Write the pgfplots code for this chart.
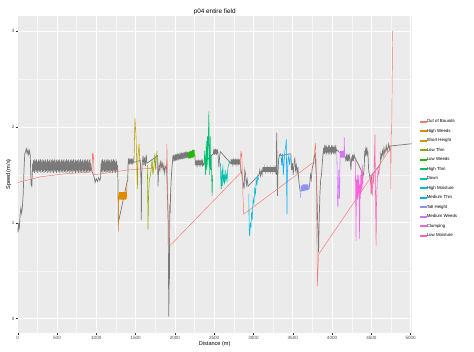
\documentclass[border=0pt]{standalone}
\usepackage{fontspec}
\setmainfont{Liberation Sans}
\usepackage{pgfplots}
\pgfplotsset{compat=1.18}
\definecolor{ggbg}{HTML}{EBEBEB}
\definecolor{ggkey}{HTML}{F2F2F2}
\definecolor{ggtick}{HTML}{333333}
\definecolor{gglab}{HTML}{4D4D4D}
\definecolor{ggna}{HTML}{7A7A7A}
\definecolor{cOOB}{HTML}{F8766D}
\definecolor{cHW}{HTML}{E18A00}
\definecolor{cSH}{HTML}{BE9C00}
\definecolor{cLT}{HTML}{8CAB00}
\definecolor{cLW}{HTML}{24B700}
\definecolor{cHT}{HTML}{00BE70}
\definecolor{cDN}{HTML}{00C1AB}
\definecolor{cHM}{HTML}{00BBDA}
\definecolor{cMT}{HTML}{00ACFC}
\definecolor{cTH}{HTML}{8B93FF}
\definecolor{cMW}{HTML}{D575FE}
\definecolor{cCL}{HTML}{F962DD}
\definecolor{cLM}{HTML}{FF65AC}
\begin{document}
\begin{tikzpicture}
\useasboundingbox (-17.7bp,-19bp) rectangle (456.3bp,333bp);
\begin{axis}[
  at={(0,0)}, anchor=south west,
  scale only axis, width=394bp, height=317bp,
  xmin=0, xmax=5013, ymin=-0.15, ymax=3.156,
  axis background/.style={fill=ggbg},
  axis line style={draw=none},
  xtick={0,500,1000,1500,2000,2500,3000,3500,4000,4500,5000},
  xticklabels={0,500,1000,1500,2000,2500,3000,3500,4000,4500,5000},
  minor xtick={250,750,1250,1750,2250,2750,3250,3750,4250,4750},
  ytick={0,1,2,3}, yticklabels={0,1,2,3},
  minor ytick={0.5,1.5,2.5},
  grid=both,
  major grid style={white, line width=0.6bp},
  minor grid style={white!60!ggbg, line width=0.3bp},
  xtick pos=bottom, ytick pos=left,
  tick align=outside, major tick length=2bp, minor tick length=0bp,
  major tick style={ggtick, line width=0.4bp},
  ticklabel style={font=\fontsize{4.6}{5}\selectfont, text=gglab},
  xticklabel style={inner sep=1bp},
  yticklabel style={inner sep=1bp},
  every axis x label/.style={at={(axis description cs:0.5,0)}, yshift=-11.3bp, anchor=center, font=\fontsize{5.6}{6}\selectfont},
  every axis y label/.style={at={(axis description cs:0,0.5)}, xshift=-9bp, rotate=90, anchor=center, font=\fontsize{5.6}{6}\selectfont},
  every axis title/.style={at={(axis description cs:0.5,1)}, yshift=3.7bp, anchor=center, font=\fontsize{6.4}{7}\selectfont},
  xlabel={Distance (m)}, ylabel={Speed (m/s)}, title={p04 entire field},
  legend style={draw=none, fill=none, at={(axis description cs:1,1)}, anchor=north west,
    xshift=8.3bp, yshift=-102.5bp, font=\fontsize{4.4}{5}\selectfont,
    row sep=3.7bp, inner sep=0bp, outer sep=0bp,
    nodes={inner sep=0.6bp, text height=3.6bp, text depth=1bp}},
  legend cell align=left,
  legend image code/.code={\fill[#1, line width=0.2bp] (0.5bp,-0.5bp) rectangle (6.5bp,0.5bp);},
  every axis plot/.append style={line width=0.55bp},
]
% NA (grey) section
\addplot[ggna, line width=0.7bp, forget plot] coordinates {
(0,0.95)(5,0.9)(10,0.97)(15,1.0)(20,0.93)(30,1.08)(40,1.15)(50,1.1)(60,1.17)(70,1.3)(80,1.55)(90,1.72)(100,1.74)(110,1.77)(120,1.72)(130,1.76)(140,1.71)(150,1.75)(160,1.7)(170,1.4)(180,1.38)
(190,1.62)(195,1.53)(200,1.65)(205,1.54)(210,1.66)(215,1.52)(220,1.64)(225,1.55)(230,1.65)(235,1.53)(240,1.66)(245,1.54)(250,1.63)(255,1.52)(260,1.65)(265,1.55)(270,1.66)(275,1.53)(280,1.64)(285,1.54)(290,1.66)(295,1.52)(300,1.65)(305,1.55)(310,1.63)(315,1.53)(320,1.66)(325,1.54)(330,1.65)(335,1.52)(340,1.64)(345,1.55)(350,1.66)(355,1.53)(360,1.65)(365,1.54)(370,1.63)(375,1.52)(380,1.66)(385,1.55)(390,1.64)(395,1.53)(400,1.65)(405,1.54)(410,1.66)(415,1.52)(420,1.63)(425,1.55)(430,1.65)(435,1.53)(440,1.66)(445,1.54)(450,1.64)(455,1.52)(460,1.65)(465,1.55)(470,1.66)(475,1.53)(480,1.63)(485,1.54)(490,1.65)(495,1.52)(500,1.66)(505,1.55)(510,1.64)(515,1.53)(520,1.65)(525,1.54)(530,1.66)(535,1.52)(540,1.63)(545,1.55)(550,1.65)(555,1.53)(560,1.66)(565,1.54)(570,1.64)(575,1.52)(580,1.65)(585,1.55)(590,1.66)(595,1.53)(600,1.63)(605,1.54)(610,1.65)(615,1.52)(620,1.66)(625,1.55)(630,1.64)(635,1.53)(640,1.65)(645,1.54)(650,1.66)(655,1.52)(660,1.63)(665,1.55)(670,1.65)(675,1.53)(680,1.66)(685,1.54)(690,1.64)(695,1.52)(700,1.65)(705,1.55)(710,1.66)(715,1.53)(720,1.63)(725,1.54)(730,1.65)(735,1.52)(740,1.66)(745,1.55)(750,1.64)(755,1.53)(760,1.65)(765,1.54)(770,1.66)(775,1.52)(780,1.63)(785,1.55)(790,1.65)(795,1.53)(800,1.66)(805,1.54)(810,1.64)(815,1.52)(820,1.65)(825,1.55)(830,1.66)(835,1.53)(840,1.63)(845,1.54)(850,1.65)(855,1.52)(860,1.66)(865,1.55)(870,1.64)(875,1.53)(880,1.65)(885,1.54)(890,1.66)(895,1.52)(900,1.63)(905,1.55)(910,1.65)(915,1.53)(920,1.66)(925,1.54)(930,1.62)(940,1.55)
(975,1.47)(985,1.42)(1000,1.46)(1015,1.43)(1030,1.47)(1045,1.44)(1055,1.47)
(1060,1.62)(1065,1.53)(1070,1.65)(1075,1.54)(1080,1.66)(1085,1.52)(1090,1.64)(1095,1.55)(1100,1.65)(1105,1.53)(1110,1.66)(1115,1.54)(1120,1.63)(1125,1.52)(1130,1.65)(1135,1.55)(1140,1.66)(1145,1.53)(1150,1.64)(1155,1.54)(1160,1.66)(1165,1.52)(1170,1.65)(1175,1.55)(1180,1.63)(1185,1.53)(1190,1.66)(1195,1.54)(1200,1.65)(1205,1.52)(1210,1.64)(1215,1.55)(1220,1.66)(1225,1.53)(1230,1.65)(1235,1.54)(1240,1.63)(1245,1.52)(1250,1.66)(1255,1.55)(1260,1.64)(1265,1.53)(1270,1.6)(1275,1.45)(1280,1.0)
(1390,1.42)(1400,1.45)(1405,1.62)(1410,1.67)(1415,1.61)(1420,1.66)(1425,1.61)(1430,1.67)(1435,1.62)(1440,1.66)(1445,1.61)(1450,1.67)(1455,1.62)(1460,1.66)(1465,1.61)(1470,1.66)(1475,1.63)
(1560,1.65)(1570,1.4)(1573,1.03)(1578,1.5)(1585,1.62)(1595,1.7)(1605,1.6)(1615,1.68)(1625,1.59)(1635,1.71)(1645,1.62)
(1780,1.7)(1785,1.38)(1790,1.5)(1800,1.6)(1810,1.55)(1820,1.65)(1830,1.58)(1840,1.62)(1850,1.55)(1860,1.6)(1870,1.52)(1880,1.58)(1890,1.6)
(1895,1.55)(1905,1.3)(1915,1.0)(1918,0.6)(1920,0.3)(1922,0.02)(1924,0.3)(1926,0.15)(1928,0.6)(1930,0.4)(1933,0.9)(1936,1.2)(1940,1.1)(1945,1.3)(1950,1.4)(1960,1.55)
(1970,1.64)(1975,1.7)(1980,1.64)(1985,1.71)(1990,1.65)(1995,1.7)(2000,1.64)(2005,1.71)(2010,1.65)(2015,1.72)(2020,1.65)(2025,1.71)(2030,1.66)(2035,1.72)(2040,1.65)(2045,1.72)(2050,1.66)(2055,1.71)(2060,1.66)(2065,1.73)(2070,1.66)(2075,1.72)(2080,1.67)(2085,1.73)(2090,1.66)(2095,1.73)(2100,1.67)(2105,1.72)(2110,1.67)(2115,1.74)(2120,1.67)(2125,1.73)(2130,1.68)(2135,1.74)(2140,1.67)(2145,1.74)(2150,1.68)(2155,1.73)(2160,1.68)(2165,1.74)(2170,1.68)
(2255,1.7)(2260,1.6)(2265,1.65)(2270,1.61)(2275,1.65)(2280,1.6)(2285,1.65)(2290,1.61)(2295,1.65)(2300,1.6)(2305,1.64)(2310,1.61)(2315,1.65)(2320,1.6)(2325,1.65)(2330,1.61)(2335,1.64)(2340,1.6)(2345,1.65)(2350,1.61)(2355,1.64)(2360,1.6)(2370,1.62)
(2490,1.72)(2495,1.77)(2500,1.71)(2505,1.76)(2510,1.71)(2515,1.77)(2520,1.72)(2525,1.76)(2530,1.71)(2535,1.77)(2540,1.72)(2545,1.76)(2550,1.7)(2560,1.58)(2570,1.7)(2580,1.74)
(2710,1.62)(2715,1.66)(2720,1.61)(2725,1.66)(2730,1.62)(2735,1.66)(2740,1.61)(2745,1.65)(2750,1.62)(2755,1.66)(2760,1.61)(2765,1.66)(2770,1.62)(2775,1.65)(2780,1.61)(2785,1.66)(2790,1.62)(2795,1.66)(2800,1.61)(2805,1.65)(2810,1.62)(2815,1.66)(2820,1.61)(2825,1.66)(2830,1.62)
(2880,1.35)(2890,1.55)(2900,1.5)(2910,1.4)(2920,1.45)(2930,1.38)
(3070,1.5)(3080,1.55)(3090,1.49)(3100,1.54)(3110,1.5)
(3120,1.58)(3125,1.53)(3130,1.58)(3135,1.53)(3140,1.57)(3145,1.53)(3150,1.58)(3155,1.54)(3160,1.58)(3165,1.53)(3170,1.58)(3175,1.53)(3180,1.57)(3185,1.54)(3190,1.58)(3195,1.53)(3200,1.58)(3205,1.53)(3210,1.58)(3215,1.54)(3220,1.57)(3225,1.53)(3230,1.58)(3235,1.53)(3240,1.58)(3245,1.54)(3250,1.58)(3255,1.53)(3260,1.57)(3265,1.53)(3270,1.58)(3275,1.54)(3280,1.57)
(3290,1.5)(3295,1.94)(3300,1.6)(3305,1.28)(3310,1.5)(3320,1.66)(3330,1.7)(3340,1.72)(3350,1.7)
(3475,1.72)(3485,1.55)(3495,1.62)(3505,1.5)(3515,1.6)(3525,1.68)(3535,1.55)(3545,1.6)(3555,1.52)(3565,1.58)(3575,1.45)(3585,1.38)(3595,1.33)
(3705,1.35)(3715,1.4)(3725,1.5)(3735,1.45)(3745,1.55)(3755,1.6)(3765,1.62)(3775,1.7)(3785,1.72)
(3790,1.62)(3800,1.5)(3810,1.2)(3820,0.9)(3828,0.69)(3835,1.0)(3845,1.3)(3855,1.45)(3865,1.5)(3875,1.62)(3885,1.72)
(3890,1.76)(3895,1.74)(3900,1.78)(3905,1.74)(3910,1.78)(3915,1.75)(3920,1.78)(3925,1.74)(3930,1.78)(3935,1.74)(3940,1.77)(3945,1.75)(3950,1.78)(3955,1.74)(3960,1.78)(3965,1.74)(3970,1.78)(3975,1.75)(3980,1.77)(3985,1.74)(3990,1.78)(3995,1.74)(4000,1.78)(4005,1.75)(4010,1.78)(4015,1.74)(4020,1.77)(4025,1.74)(4030,1.78)(4035,1.75)(4040,1.78)(4045,1.74)(4050,1.78)(4055,1.75)(4060,1.76)
(4170,1.68)(4175,1.64)(4180,1.71)(4185,1.65)(4190,1.72)(4195,1.64)(4200,1.7)(4205,1.65)(4210,1.71)(4215,1.64)(4220,1.7)(4230,1.66)(4240,1.55)(4250,1.69)(4255,1.64)(4260,1.71)(4265,1.65)(4270,1.7)(4275,1.64)(4280,1.71)(4290,1.68)
(4400,1.5)(4410,1.6)(4415,1.75)(4420,1.72)(4425,1.76)(4430,1.72)(4435,1.76)(4440,1.73)(4445,1.76)(4450,1.72)(4455,1.75)(4465,1.55)(4475,1.5)(4485,1.45)(4495,1.4)(4505,1.5)
(4610,1.6)(4620,1.72)(4630,1.68)(4640,1.75)(4650,1.7)(4660,1.78)(4670,1.72)(4680,1.76)(4690,1.8)(4700,1.74)(4710,1.78)(4720,1.82)(4730,1.76)(4740,1.8)(5200,1.84)
};
% Out of Bounds
\addplot[cOOB, line width=0.45bp] coordinates {
(0,1.42)(300,1.48)(600,1.51)(945,1.53)(948,1.6)(952,1.73)(958,1.66)(963,1.72)(968,1.6)(972,1.5)
(1400,1.55)(1895,1.58)(1898,1.82)(1902,1.7)(1906,1.5)(1910,1.2)(1915,1.0)(1925,0.8)(1937,0.76)
(2835,1.52)(2838,1.75)(2845,1.7)(2852,1.72)(2858,1.5)(2865,1.3)(2876,1.09)
(3762,1.63)(3788,1.83)(3795,1.7)(3800,1.4)(3805,1.0)(3810,0.6)(3815,0.34)(3820,0.5)(3828,0.67)
(4740,1.77)(4745,1.75)(4748,1.35)(4752,1.95)(4755,1.92)(4758,1.97)(4762,2.3)(4766,2.6)(4770,3.0)
};
\addlegendentry{Out of Bounds}
% High Weeds
\addplot[cHW] coordinates {
(1280,0.91)(1283,1.3)(1287,1.24)(1291,1.32)(1295,1.24)(1299,1.32)(1303,1.24)(1307,1.32)(1311,1.24)(1315,1.32)(1319,1.24)(1323,1.32)(1327,1.24)(1331,1.32)(1335,1.24)(1339,1.32)(1343,1.24)(1347,1.32)(1351,1.24)(1355,1.32)(1359,1.24)(1363,1.32)(1367,1.24)(1371,1.32)(1375,1.24)(1379,1.32)(1383,1.25)(1387,1.32)(1390,1.42)
};
\addlegendentry{High Weeds}
% Short Height
\addplot[cSH] coordinates {
(1480,1.65)(1488,1.95)(1493,2.09)(1498,2.0)(1505,1.9)(1512,1.7)(1518,1.5)(1523,1.35)(1530,1.7)(1537,1.75)(1544,1.82)(1550,1.7)(1556,1.62)
};
\addlegendentry{Short Height}
% Low Thin
\addplot[cLT] coordinates {
(1650,1.6)(1655,1.2)(1658,0.93)(1665,1.3)(1675,1.45)(1690,1.5)(1700,1.58)(1710,1.66)(1720,1.5)(1735,1.6)(1745,1.72)(1755,1.55)(1765,1.7)(1775,1.75)
};
\addlegendentry{Low Thin}
% Low Weeds
\addplot[cLW] coordinates {
(2170,1.67)(2174,1.74)(2178,1.67)(2182,1.74)(2186,1.67)(2190,1.75)(2194,1.67)(2198,1.75)(2202,1.67)(2206,1.75)(2210,1.68)(2214,1.75)(2218,1.68)(2222,1.76)(2226,1.68)(2230,1.76)(2234,1.68)(2238,1.76)(2242,1.69)(2246,1.76)(2250,1.7)
};
\addlegendentry{Low Weeds}
% High Thin
\addplot[cHT] coordinates {
(2370,1.6)(2380,1.75)(2390,1.5)(2400,1.85)(2405,1.55)(2415,1.9)(2420,1.6)(2428,2.0)(2432,2.16)(2437,1.8)(2442,1.5)(2450,1.9)(2455,1.55)(2462,1.7)(2470,1.4)(2474,1.28)(2480,1.5)
};
\addlegendentry{High Thin}
% Down
\addplot[cDN] coordinates {
(2580,1.62)(2585,1.4)(2590,1.35)(2597,1.55)(2603,1.38)(2610,1.6)(2617,1.42)(2625,1.5)(2630,1.4)(2640,1.55)(2648,1.42)(2655,1.5)(2665,1.45)(2675,1.58)(2685,1.6)(2695,1.64)(2705,1.62)
};
\addlegendentry{Down}
% High Moisture
\addplot[cHM] coordinates {
(2940,1.3)(2945,0.95)(2950,0.86)(2955,0.92)(2960,1.0)(2968,0.95)(2975,1.1)(2985,1.05)(2995,1.25)(3005,1.2)(3015,1.35)(3025,1.3)(3035,1.45)(3045,1.4)(3055,1.49)(3065,1.45)
};
\addlegendentry{High Moisture}
% Medium Thin
\addplot[cMT] coordinates {
(3350,1.7)(3360,1.6)(3370,1.72)(3380,1.5)(3390,1.65)(3400,1.75)(3410,1.8)(3418,1.87)(3422,1.4)(3426,1.09)(3430,1.5)(3440,1.65)(3450,1.7)(3460,1.6)(3470,1.68)
};
\addlegendentry{Medium Thin}
% Tall Height
\addplot[cTH] coordinates {
(3600,1.26)(3604,1.38)(3608,1.33)(3612,1.39)(3616,1.33)(3620,1.39)(3624,1.33)(3628,1.4)(3632,1.33)(3636,1.4)(3640,1.33)(3644,1.4)(3648,1.34)(3652,1.4)(3656,1.34)(3660,1.4)(3664,1.34)(3668,1.4)(3672,1.34)(3676,1.4)(3680,1.34)(3684,1.4)(3688,1.34)(3692,1.4)(3696,1.35)(3700,1.38)
};
\addlegendentry{Tall Height}
% Medium Weeds
\addplot[cMW] coordinates {
(4060,1.75)(4065,1.5)(4070,1.2)(4075,1.16)(4080,1.3)(4085,1.55)(4090,1.4)(4095,1.25)(4100,1.6)(4105,1.75)(4110,1.68)(4115,1.75)(4120,1.68)(4125,1.75)(4130,1.68)(4135,1.75)(4140,1.68)(4145,1.75)(4150,1.68)(4155,1.89)(4160,1.7)(4165,1.68)
};
\addlegendentry{Medium Weeds}
% Clumping
\addplot[cCL] coordinates {
(4295,1.66)(4300,1.3)(4305,0.81)(4310,1.45)(4315,1.25)(4320,1.5)(4325,1.24)(4330,1.45)(4335,1.3)(4340,1.5)(4345,1.25)(4350,0.83)(4355,1.4)(4360,1.25)(4365,1.5)(4370,1.3)(4375,1.55)(4380,1.35)(4385,1.6)(4390,1.4)(4395,1.5)
};
\addlegendentry{Clumping}
% Low Moisture
\addplot[cLM] coordinates {
(4490,1.5)(4495,1.3)(4500,1.45)(4510,1.28)(4520,1.5)(4530,1.4)(4540,1.7)(4546,1.92)(4550,1.5)(4555,1.1)(4560,0.76)(4565,1.2)(4575,1.45)(4585,1.55)(4595,1.5)(4605,1.6)
};
\addlegendentry{Low Moisture}
\node[anchor=west, font=\fontsize{4.6}{5}\selectfont, inner sep=0bp] at (axis description cs:1,1) [xshift=6.3bp, yshift=-96.7bp] {section};
\end{axis}
\end{tikzpicture}
\end{document}
